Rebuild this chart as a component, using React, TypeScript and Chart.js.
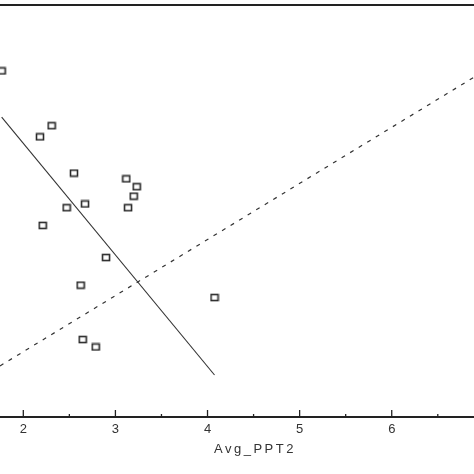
import React, { useEffect, useRef } from "react";
import { Chart, registerables } from "chart.js";

Chart.register(...registerables);

// Scatter observations (Avg_PPT2 on x, unlabeled response on y)
const pointX = [1.765, 2.308, 2.181, 2.55, 3.118, 3.231, 3.199, 3.137, 2.471, 2.67, 2.211, 2.898, 2.623, 4.076, 2.645, 2.786];
const pointY = [8.4, 7.07, 6.8, 5.92, 5.78, 5.59, 5.36, 5.08, 5.08, 5.17, 4.65, 3.87, 3.2, 2.9, 1.88, 1.7];

// Solid fitted line (over the data range)
const solidLineX = [1.765, 4.076];
const solidLineY = [7.28, 1.02];

// Dashed reference line (across the plot)
const dashedLineX = [1.747, 7.284];
const dashedLineY = [1.24, 8.78];

// Axis setup
const xMin = 1.747;
const xMax = 7.284;
const yMin = 0;
const yMax = 10;
const xMajorTicks = [2, 3, 4, 5, 6, 7];
const xMinorTicks = [2.5, 3.5, 4.5, 5.5, 6.5];
const xTitle = "Avg_PPT2";

const INK = "#222";

function makeBoxMarker(): HTMLCanvasElement {
  const c = document.createElement("canvas");
  c.width = 10;
  c.height = 9;
  const g = c.getContext("2d")!;
  g.fillStyle = "#fff";
  g.fillRect(1.5, 1.5, 7, 6);
  g.strokeStyle = "#2a2a2a";
  g.lineWidth = 1.6;
  g.strokeRect(1.5, 1.5, 7, 6);
  return c;
}

const framePlugin = {
  id: "frameAndTicks",
  beforeDraw(chart: any) {
    try {
      (chart.ctx as any).letterSpacing = "2.5px";
    } catch (e) {}
  },
  afterDraw(chart: any) {
    const { ctx, chartArea } = chart;
    const xs = chart.scales.x;
    ctx.save();
    ctx.strokeStyle = INK;
    // top frame line
    ctx.lineWidth = 2;
    ctx.beginPath();
    ctx.moveTo(chartArea.left, chartArea.top);
    ctx.lineTo(chartArea.right, chartArea.top);
    ctx.stroke();
    // inward tick marks
    ctx.lineWidth = 1.3;
    xs.ticks.forEach((t: any) => {
      const px = xs.getPixelForValue(t.value);
      const len = xMajorTicks.includes(t.value) ? 7 : 3;
      ctx.beginPath();
      ctx.moveTo(px, chartArea.bottom);
      ctx.lineTo(px, chartArea.bottom - len);
      ctx.stroke();
    });
    ctx.restore();
  },
};

export default function App() {
  const canvasRef = useRef<HTMLCanvasElement | null>(null);

  useEffect(() => {
    if (!canvasRef.current) return;
    const marker = makeBoxMarker();
    const chart = new Chart(canvasRef.current, {
      type: "scatter",
      data: {
        datasets: [
          {
            label: "observations",
            data: pointX.map((x, i) => ({ x, y: pointY[i] })),
            pointStyle: marker as any,
            pointRadius: 4,
            showLine: false,
          },
          {
            label: "fit",
            data: solidLineX.map((x, i) => ({ x, y: solidLineY[i] })),
            showLine: true,
            borderColor: "#333",
            borderWidth: 1.1,
            pointRadius: 0,
            fill: false,
          },
          {
            label: "reference",
            data: dashedLineX.map((x, i) => ({ x, y: dashedLineY[i] })),
            showLine: true,
            borderColor: "#333",
            borderWidth: 1.2,
            borderDash: [4, 6],
            pointRadius: 0,
            fill: false,
          },
        ],
      },
      options: {
        animation: false,
        responsive: true,
        maintainAspectRatio: false,
        layout: { autoPadding: false, padding: { top: 5, left: 0, right: 0, bottom: 0 } },
        plugins: {
          legend: { display: false },
          tooltip: { enabled: false },
        },
        scales: {
          x: {
            type: "linear",
            min: xMin,
            max: xMax,
            afterBuildTicks: (scale: any) => {
              scale.ticks = [...xMajorTicks, ...xMinorTicks]
                .sort((a, b) => a - b)
                .map((v) => ({ value: v }));
            },
            afterFit: (scale: any) => {
              scale.height = 57;
              scale.paddingLeft = 0;
              scale.paddingRight = 0;
            },
            grid: { display: false, drawTicks: false },
            border: { display: true, color: INK, width: 2 },
            ticks: {
              autoSkip: false,
              maxRotation: 0,
              padding: 5,
              labelOffset: 1.3,
              color: "#333",
              font: { size: 13, family: "'Liberation Sans', Arial, sans-serif" },
              callback: (v: any) => (xMajorTicks.includes(Number(v)) ? String(v) : ""),
            },
            title: {
              display: true,
              text: xTitle,
              color: "#333",
              font: { size: 13, family: "'Liberation Sans', Arial, sans-serif" },
              padding: { top: 0, bottom: 17 },
            },
          },
          y: {
            type: "linear",
            min: yMin,
            max: yMax,
            display: false,
          },
        },
      },
      plugins: [framePlugin],
    });
    return () => chart.destroy();
  }, []);

  return (
    <div
      style={{
        position: "fixed",
        left: 0,
        top: 0,
        width: 474,
        height: 474,
        overflow: "hidden",
        background: "#fff",
      }}
    >
      <div style={{ position: "relative", width: 510, height: 474 }}>
        <canvas ref={canvasRef} style={{ display: "block" }} />
      </div>
    </div>
  );
}
